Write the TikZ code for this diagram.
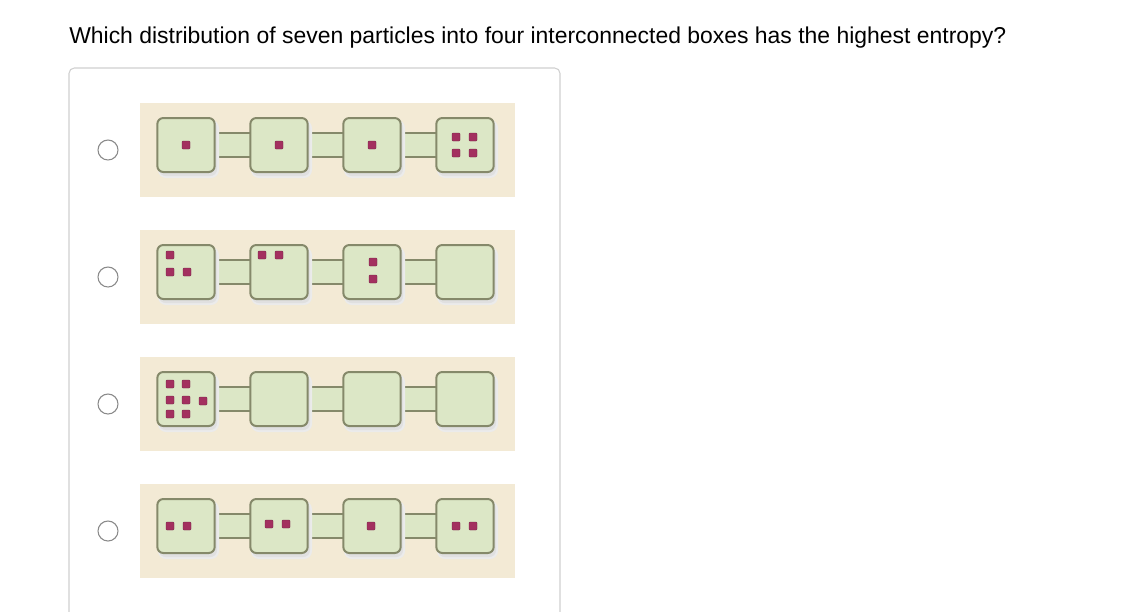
\documentclass[tikz,border=0pt]{standalone}
\usepackage{fontspec}
\setmainfont{Liberation Sans}
\definecolor{panel}{HTML}{F3EAD5}
\definecolor{boxfill}{HTML}{DCE7C6}
\definecolor{boxline}{HTML}{85896A}
\definecolor{dot}{HTML}{A3305F}
\definecolor{card}{HTML}{D0D0D0}
\definecolor{radio}{HTML}{8A8A8A}
\tikzset{
  px/.style={x=0.75pt,y=-0.75pt},
  cell/.style={draw=boxline,line width=1.5pt,fill=boxfill,rounded corners=4.5pt,minimum width=43pt,minimum height=40.5pt,inner sep=0pt},
  conn/.style={fill=boxfill},
  connline/.style={draw=boxline,line width=1.2pt},
  particle/.style={fill=dot,draw=dot!70!black,line width=0.3pt,rounded corners=0.6pt},
  radiob/.style={circle,draw=radio,line width=0.8pt,minimum size=15pt,inner sep=0pt},
}
\newcommand{\pt}[3]{\fill[particle] ($(#1)+(#2-4,#3-4)$) rectangle ++(8,8);}
\usetikzlibrary{calc}
\begin{document}
\begin{tikzpicture}[px]
\useasboundingbox (0,0) rectangle (1124,611);
\clip (0,0) rectangle (1124,611);
\fill[white] (0,0) rectangle (1124,611);
\node[anchor=west,inner sep=0pt,font=\fontsize{17.2pt}{20pt}\selectfont] (q) at (69,38) {Which distribution of seven particles into four interconnected boxes has the highest entropy?};
\draw[card,line width=0.8pt,rounded corners=4pt] (69,640) -- (69,68) -- (560,68) -- (560,640);
\foreach \r/\cy in {1/150,2/277,3/404,4/531}{
  \node[radiob] (r\r) at (108,\cy) {};
  \fill[panel] (140,\cy-47) rectangle (515,\cy+47);
  \foreach \k in {1,2,3}{
    \fill[conn] (186+93*\k-93+25,\cy-5-12) rectangle (186+93*\k-25,\cy-5+12);
    \draw[connline] (186+93*\k-93+25,\cy-5-12) -- (186+93*\k-25,\cy-5-12);
    \draw[connline] (186+93*\k-93+25,\cy-5+12) -- (186+93*\k-25,\cy-5+12);
  }
  \foreach \k in {1,2,3,4}{
    \fill[black!8,rounded corners=6pt] (186+93*\k-93-28,\cy-5-25) rectangle (186+93*\k-93+33,\cy-5+33);
    \fill[black!12,rounded corners=5pt] (186+93*\k-93-27,\cy-5-24) rectangle (186+93*\k-93+31,\cy-5+31);
    \node[cell] (b\r\k) at (186+93*\k-93,\cy-5) {};
  }
}
% row 1
\pt{b11}{0}{0} \pt{b12}{0}{0} \pt{b13}{0}{0}
\pt{b14}{-9}{-8} \pt{b14}{8}{-8} \pt{b14}{-9}{8} \pt{b14}{8}{8}
% row 2
\pt{b21}{-16}{-17} \pt{b21}{-16}{0} \pt{b21}{1}{0}
\pt{b22}{-17}{-17} \pt{b22}{0}{-17}
\pt{b23}{1}{-10} \pt{b23}{1}{7}
% row 3
\pt{b31}{-16}{-15} \pt{b31}{0}{-15} \pt{b31}{-16}{1} \pt{b31}{0}{1} \pt{b31}{17}{2} \pt{b31}{-16}{15} \pt{b31}{0}{15}
% row 4
\pt{b41}{-16}{0} \pt{b41}{1}{0}
\pt{b42}{-10}{-2} \pt{b42}{7}{-2}
\pt{b43}{-1}{0}
\pt{b44}{-9}{0} \pt{b44}{8}{0}
\end{tikzpicture}
\end{document}
